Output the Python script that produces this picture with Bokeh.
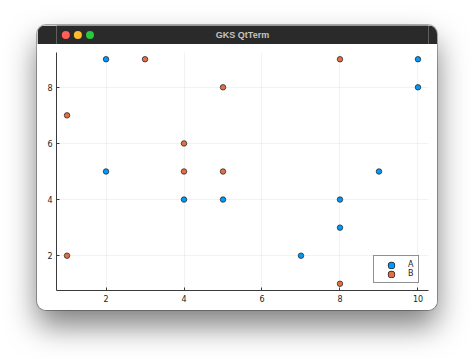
from bokeh.plotting import figure
from bokeh.layouts import column
from bokeh.models import Label, Legend, LegendItem, FixedTicker, Range1d
from bokeh.embed import file_html
from bokeh.resources import INLINE

# ---- data ----
a_x = [2, 10, 10, 2, 9, 4, 5, 8, 8, 7]
a_y = [9, 9, 8, 5, 5, 4, 4, 4, 3, 2]
b_x = [3, 8, 5, 1, 4, 4, 5, 1, 8]
b_y = [9, 9, 8, 7, 6, 5, 5, 2, 1]
series_names = ["A", "B"]
series_colors = ["#009AFA", "#E36F47"]
x_ticks = [2, 4, 6, 8, 10]
y_ticks = [2, 4, 6, 8]
window_title = "GKS QtTerm"
light_colors = ["#FF5F57", "#FEBC2E", "#28C840"]

W = 400
BAR_H = 19
PLOT_H = 266

# ---- title bar of the window ----
bar = figure(width=W, height=BAR_H, x_range=Range1d(0, W), y_range=Range1d(0, BAR_H),
             output_backend="svg", toolbar_location=None,
             min_border=0, background_fill_color="#2a2a2a", border_fill_color="#2a2a2a",
             outline_line_color=None)
bar.axis.visible = False
bar.grid.visible = False
bar.scatter([10, 23, 36], [BAR_H / 2] * 3, size=8, fill_color=light_colors, line_color=None)
bar.add_layout(Label(x=W / 2, y=BAR_H / 2, text=window_title, text_align="center",
                     text_baseline="middle", text_font="Liberation Sans",
                     text_font_size="9px", text_font_style="bold", text_color="#c4c4c4"))

# ---- chart ----
p = figure(width=W, height=PLOT_H,
           x_range=Range1d(0.73, 10.27), y_range=Range1d(0.76, 9.24),
           output_backend="svg", toolbar_location=None,
           min_border_left=19, min_border_right=9, min_border_top=8, min_border_bottom=20,
           background_fill_color="white", border_fill_color="white",
           outline_line_color=None)

p.xaxis.ticker = FixedTicker(ticks=x_ticks)
p.yaxis.ticker = FixedTicker(ticks=y_ticks)
for ax in (p.xaxis, p.yaxis):
    ax.major_tick_in = 3
    ax.major_tick_out = 0
    ax.minor_tick_in = 0
    ax.minor_tick_out = 0
    ax.axis_line_color = "#3a3a3a"
    ax.major_tick_line_color = "#3a3a3a"
    ax.major_label_text_font = "DejaVu Sans"
    ax.major_label_text_font_size = "8px"
    ax.major_label_text_color = "#222222"
    ax.major_label_standoff = 4
p.grid.grid_line_color = "black"
p.grid.grid_line_alpha = 0.1
p.grid.grid_line_width = 0.5

ra = p.scatter(a_x, a_y, size=5.5, fill_color=series_colors[0], line_color="#1a1a1a", line_width=0.7)
rb = p.scatter(b_x, b_y, size=5.5, fill_color=series_colors[1], line_color="#1a1a1a", line_width=0.7)

# legend-only (hidden) renderers giving a larger ringed marker in the legend
def legend_marker(xs, ys, color):
    ring = p.scatter(xs, ys, size=5, fill_color="#1a1a1a", line_color="#1a1a1a", line_width=4.2, visible=False)
    dot = p.scatter(xs, ys, size=5, fill_color=color, line_color=color, line_width=2.8, visible=False)
    return [ring, dot]

legend = Legend(items=[LegendItem(label=series_names[0], renderers=legend_marker(a_x, a_y, series_colors[0])),
                       LegendItem(label=series_names[1], renderers=legend_marker(b_x, b_y, series_colors[1]))],
                location=(317, 7), orientation="vertical",
                padding=4, spacing=0, margin=0,
                glyph_width=26, glyph_height=8, label_height=8, label_width=5,
                label_standoff=4,
                border_line_color="#222222", border_line_width=1,
                background_fill_color="white", background_fill_alpha=1,
                label_text_font="DejaVu Sans", label_text_font_size="8px",
                label_text_color="#222222")
p.add_layout(legend)

win = column(bar, p, spacing=0)
win.margin = (25, 0, 0, 37)
win.styles = {"border-radius": "9px", "overflow": "hidden",
              "box-shadow": "0 16px 30px rgba(0,0,0,0.5), 0 0 0 1px rgba(0,0,0,0.3)"}

open("out.html", "w").write(file_html(win, INLINE))
